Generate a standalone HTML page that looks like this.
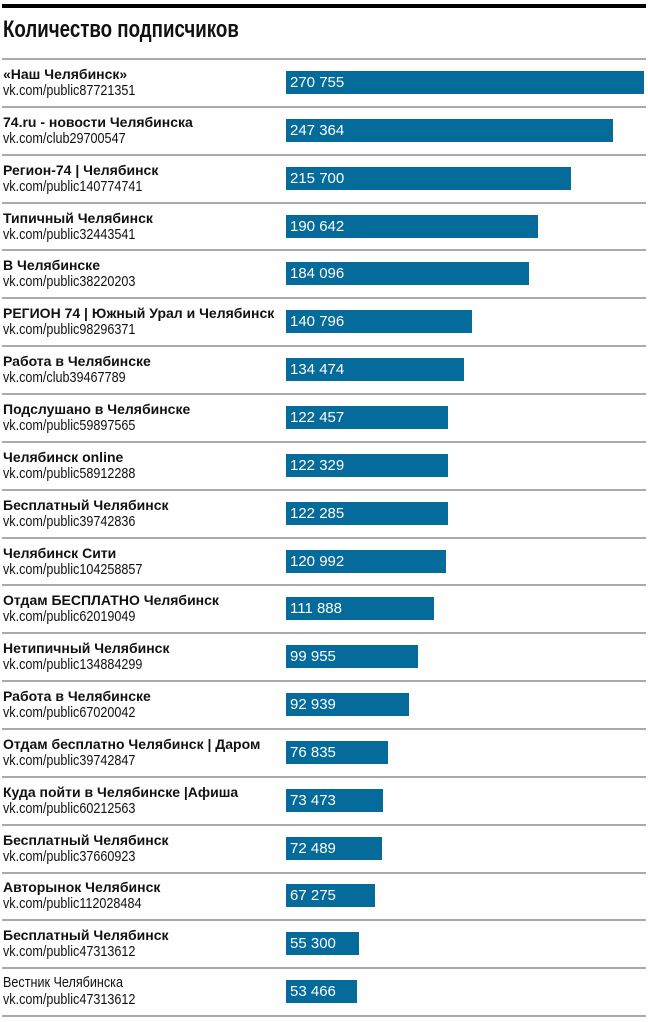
<!DOCTYPE html>
<html><head><meta charset="utf-8"><style>
body{margin:0;width:648px;height:1022px;background:#fff;font-family:"Liberation Sans","DejaVu Sans",sans-serif;position:relative;overflow:hidden}
.top{position:absolute;left:2px;top:4px;width:644px;height:4px;background:#000}
.title{position:absolute;left:3px;top:16px;font-size:24px;font-weight:bold;transform:scaleX(0.78);transform-origin:left;white-space:nowrap;color:#111}
.sep{position:absolute;left:2px;width:644px;height:2px;background:#aaa}
.t{position:absolute;left:3px;font-size:15px;white-space:nowrap;transform:scaleX(0.84);transform-origin:left;color:#111}
.b{font-weight:bold;font-size:14px;transform:scaleX(1)}
.bar{position:absolute;left:286px;height:23px;background:#046b9b;color:#fff;font-size:15px;line-height:23px;box-sizing:border-box;padding-left:4px;white-space:nowrap}
</style></head><body>
<div class="top"></div>
<div class="title">Количество подписчиков</div>
<div id="c"></div>
<script>
var d=[["«Наш Челябинск»","vk.com/public87721351",270755,1],
["74.ru - новости Челябинска","vk.com/club29700547",247364,1],
["Регион-74 | Челябинск","vk.com/public140774741",215700,1],
["Типичный Челябинск","vk.com/public32443541",190642,1],
["В Челябинске","vk.com/public38220203",184096,1],
["РЕГИОН 74 | Южный Урал и Челябинск","vk.com/public98296371",140796,1],
["Работа в Челябинске","vk.com/club39467789",134474,1],
["Подслушано в Челябинске","vk.com/public59897565",122457,1],
["Челябинск online","vk.com/public58912288",122329,1],
["Бесплатный Челябинск","vk.com/public39742836",122285,1],
["Челябинск Сити","vk.com/public104258857",120992,1],
["Отдам БЕСПЛАТНО Челябинск","vk.com/public62019049",111888,1],
["Нетипичный Челябинск","vk.com/public134884299",99955,1],
["Работа в Челябинске","vk.com/public67020042",92939,1],
["Отдам бесплатно Челябинск | Даром","vk.com/public39742847",76835,1],
["Куда пойти в Челябинске |Афиша","vk.com/public60212563",73473,1],
["Бесплатный Челябинск","vk.com/public37660923",72489,1],
["Авторынок Челябинск","vk.com/public112028484",67275,1],
["Бесплатный Челябинск","vk.com/public47313612",55300,1],
["Вестник Челябинска","vk.com/public47313612",53466,0]];
var h='';
for(var i=0;i<=20;i++){h+='<div class="sep" style="top:'+(58+i*47.85).toFixed(1)+'px"></div>';}
d.forEach(function(r,i){var y=58+i*47.85;
h+='<div class="t'+(r[3]?' b':'')+'" style="top:'+(y+(r[3]?8:7))+'px">'+r[0]+'</div>';
h+='<div class="t" style="top:'+(y+24)+'px">'+r[1]+'</div>';
var w=Math.round(r[2]*358/270755);
h+='<div class="bar" style="top:'+(y+13)+'px;width:'+w+'px">'+r[2].toLocaleString('en').replace(/,/g,' ')+'</div>';});
document.getElementById('c').innerHTML=h;
</script>
</body></html>
